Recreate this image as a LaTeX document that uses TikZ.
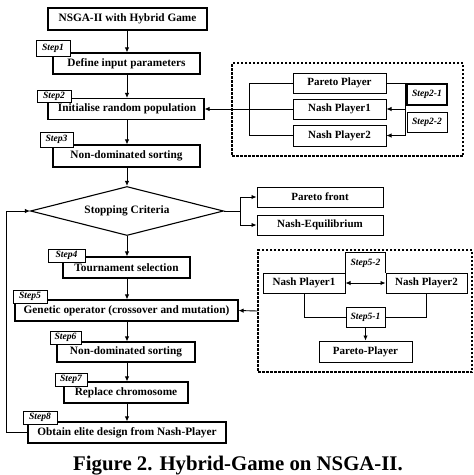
\documentclass[tikz,border=0pt]{standalone}
\usepackage{fontspec}
\setmainfont{Liberation Serif}
\usetikzlibrary{arrows.meta,shapes.geometric}
\begin{document}
\begin{tikzpicture}[x=1pt,y=-1pt,
  box/.style={draw,line width=1.2pt,fill=white,inner sep=0pt,font=\fontsize{11.3}{12}\selectfont\bfseries},
  sbox/.style={draw,line width=1pt,fill=white,inner sep=0pt,font=\fontsize{11}{12}\selectfont\bfseries},
  steplbl/.style={draw,line width=1pt,fill=white,inner sep=0pt,font=\fontsize{9.6}{10}\selectfont\bfseries\itshape},
  conn/.style={line width=0.9pt},
  arr/.style={line width=0.9pt,-{Latex[length=5pt,width=4.5pt]}},
  dbox/.style={draw,line width=1.1pt,dash pattern=on 2.5pt off 1.5pt,inner sep=0pt}]
\useasboundingbox (0,0) rectangle (474,475);
\coordinate (col) at (127,0);
% main column
\node[box,minimum width=159pt,minimum height=22pt] (title) at (127.5,19) {NSGA-II with Hybrid Game};
\node[box,minimum width=147pt,minimum height=21pt] (define) at (126.5,63.5) {\raisebox{-0.8pt}{Define input parameters}};
\node[box,minimum width=156pt,minimum height=21pt] (init) at (126,109) {\raisebox{-2pt}{\hspace{2pt}Initialise random population}};
\node[box,minimum width=147pt,minimum height=22pt] (nd1) at (126.5,156) {\raisebox{-0.8pt}{Non-dominated sorting}};
\node[draw,diamond,line width=1.1pt,aspect=3.94,inner sep=0pt,minimum width=193pt,minimum height=49pt] (dia) at (127,211) {};
\node[font=\fontsize{11.3}{12}\selectfont\bfseries] (dialbl) at (127,211) {Stopping Criteria};
\node[box,minimum width=127pt,minimum height=21pt] (tourn) at (126.5,267.5) {\raisebox{-0.8pt}{Tournament selection}};
\node[box,minimum width=223pt,minimum height=21pt] (gen) at (126.5,310.5) {\raisebox{-0.8pt}{Genetic operator (crossover and mutation)}};
\node[box,minimum width=138pt,minimum height=20pt] (nd2) at (126,352) {\raisebox{-0.8pt}{Non-dominated sorting}};
\node[box,minimum width=124pt,minimum height=21pt] (repl) at (126,392.5) {\raisebox{-0.8pt}{Replace chromosome}};
\node[box,minimum width=198pt,minimum height=21pt] (obt) at (127,432.5) {\raisebox{-0.8pt}{Obtain elite design from Nash-Player}};
% step labels
\node[steplbl,minimum width=34pt,minimum height=16pt] (s1) at (53,48) {Step1};
\node[steplbl,minimum width=34pt,minimum height=12pt] (s2) at (54,96.5) {Step2};
\node[steplbl,minimum width=33pt,minimum height=15pt] (s3) at (56.5,139.5) {Step3};
\node[steplbl,minimum width=37pt,minimum height=13pt] (s4) at (66.5,255.5) {Step4};
\node[steplbl,minimum width=34pt,minimum height=13pt] (s5) at (30,296.5) {Step5};
\node[steplbl,minimum width=31pt,minimum height=13pt] (s6) at (65.5,337.5) {Step6};
\node[steplbl,minimum width=32pt,minimum height=13pt] (s7) at (71,379.5) {Step7};
\node[steplbl,minimum width=34pt,minimum height=13pt] (s8) at (40,417.5) {Step8};
% main arrows
\draw[arr] (title.south -| col) -- (define.north -| col);
\draw[arr] (define.south -| col) -- (init.north -| col);
\draw[arr] (init.south -| col) -- (nd1.north -| col);
\draw[arr] (nd1.south -| col) -- (dia.north);
\draw[arr] (dia.south) -- (tourn.north -| col);
\draw[arr] (tourn.south -| col) -- (gen.north -| col);
\draw[arr] (gen.south -| col) -- (nd2.north -| col);
\draw[arr] (nd2.south -| col) -- (repl.north -| col);
\draw[arr] (repl.south -| col) -- (obt.north -| col);
\draw[arr] (obt.west) -- ++(-21,0) |- (dia.west);
% top-right dashed group
\node[dbox,minimum width=231pt,minimum height=93pt] (dash1) at (347.5,109.5) {};
\node[sbox,minimum width=93pt,minimum height=20pt] (pp) at (339.5,83) {Pareto Player};
\node[sbox,minimum width=93pt,minimum height=20pt] (np1) at (339.5,109) {Nash Player1};
\node[sbox,minimum width=93pt,minimum height=21pt] (np2) at (339.5,135.5) {Nash Player2};
\coordinate (bl) at (249,0);
\coordinate (br) at (405,0);
\draw[conn] (pp.west) -- (pp.west -| bl) -- (np2.west -| bl) -- (np2.west);
\draw[arr] (np1.west) -- (init.east);
\draw[conn] (pp.east) -- (pp.east -| br) -- (np2.east -| br);
\draw[arr] (np1.east -| br) -- (np1.east);
\draw[arr] (np2.east -| br) -- (np2.east);
\node[steplbl,line width=1.3pt,minimum width=40pt,minimum height=21pt] (s21) at (427,94.5) {Step2-1};
\node[steplbl,minimum width=40pt,minimum height=20pt] (s22) at (427,122) {Step2-2};
% outputs of stopping criteria
\node[sbox,minimum width=126pt,minimum height=20pt] (pf) at (320,197) {Pareto front};
\node[sbox,minimum width=126pt,minimum height=20pt] (ne) at (320,225) {Nash-Equilibrium};
\coordinate (bx) at (240,0);
\draw[conn] (dia.east) -- (dia.east -| bx);
\draw[conn] (pf.west -| bx) -- (ne.west -| bx);
\draw[arr] (pf.west -| bx) -- (pf.west);
\draw[arr] (ne.west -| bx) -- (ne.west);
% bottom-right dashed group
\node[dbox,minimum width=214pt,minimum height=122pt] (dash2) at (365,311) {};
\node[sbox,minimum width=82pt,minimum height=20pt] (bnp1) at (304,283) {Nash Player1};
\node[sbox,minimum width=81pt,minimum height=20pt] (bnp2) at (426.5,283) {Nash Player2};
\node[inner sep=0pt,minimum width=40pt,minimum height=20pt,font=\fontsize{9.6}{10}\selectfont\bfseries\itshape] (s52) at (365.5,263) {Step5-2};
\draw[line width=1pt] (s52.south west) -- (s52.north west) -- (s52.north east) -- (s52.south east);
\draw[line width=0.9pt,{Latex[length=5pt,width=4.5pt]}-{Latex[length=5pt,width=4.5pt]}] (bnp1.east) -- (bnp2.west);
\node[steplbl,minimum width=39pt,minimum height=20pt] (s51) at (365.5,317) {Step5-1};
\node[sbox,minimum width=93pt,minimum height=21pt] (ppl) at (365.5,351.5) {Pareto-Player};
\draw[conn] (bnp1.south) |- (s51.west);
\draw[conn] (bnp2.south) |- (s51.east);
\draw[arr] (s51.south) -- (ppl.north);
\draw[arr] (dash2.west) -- (gen.east);
% caption
\node[anchor=base,inner sep=0pt,font=\fontsize{20.8}{24}\selectfont\bfseries] (cap) at (238,470) {Figure 2. Hybrid-Game on NSGA-II.};
\end{tikzpicture}
\end{document}
